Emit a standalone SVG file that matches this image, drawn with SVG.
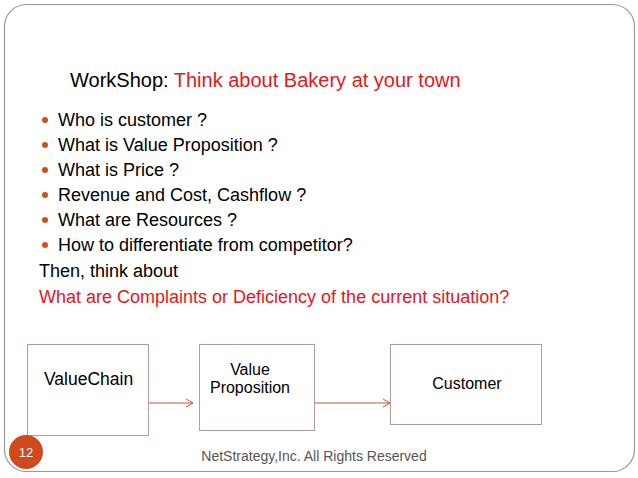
<svg xmlns="http://www.w3.org/2000/svg" width="638" height="478" viewBox="0 0 638 478">
<style>
text{font-family:"Liberation Sans",Arial,sans-serif;fill:#000}
.b{font-size:18px}
.red{fill:#e8151b}
.box{fill:#fff;stroke:#b89a9a;stroke-width:1}
.con{stroke:#c8553a;stroke-width:1;fill:none}
.dot{fill:#d0501c}
.n{font-size:16px}
</style>
<defs><marker id="ah" markerWidth="10" markerHeight="10" refX="8" refY="5" orient="auto" markerUnits="userSpaceOnUse"><path d="M1,1 L8,5 L1,9" fill="none" stroke="#c8553a" stroke-width="1"/></marker></defs>
<rect width="638" height="478" fill="#fff"/>
<rect x="4.5" y="4.5" width="630" height="467" rx="22" fill="none" stroke="#999" stroke-width="1.2"/>
<text x="70" y="87" font-size="20">WorkShop: <tspan class="red">Think about Bakery at your town</tspan></text>
<g>
<circle class="dot" cx="45" cy="120" r="3"/><text x="58" y="126" class="b">Who is customer ?</text>
<circle class="dot" cx="45" cy="145" r="3"/><text x="58" y="151" class="b">What is Value Proposition ?</text>
<circle class="dot" cx="45" cy="170" r="3"/><text x="58" y="176" class="b">What is Price ?</text>
<circle class="dot" cx="45" cy="195" r="3"/><text x="58" y="201" class="b">Revenue and Cost, Cashflow ?</text>
<circle class="dot" cx="45" cy="220" r="3"/><text x="58" y="226" class="b">What are Resources ?</text>
<circle class="dot" cx="45" cy="245" r="3"/><text x="58" y="251" class="b">How to differentiate from competitor?</text>
<text x="39" y="277" class="b">Then, think about</text>
<text x="39" y="303" class="b red">What are Complaints or Deficiency of the current situation?</text>
</g>
<g id="connectors">
<line class="con" x1="149" y1="403" x2="193" y2="403" marker-end="url(#ah)"/>
<line class="con" x1="310" y1="403" x2="390" y2="403" marker-end="url(#ah)"/>
</g>
<g id="valuechain"><rect class="box" x="27.5" y="344.5" width="121" height="91"/><text x="44" y="385" class="n" font-size="17.5" style="font-size:17.5px">ValueChain</text></g>
<g id="valueprop"><rect class="box" x="199.5" y="344.5" width="115" height="86"/><text x="250" y="375" class="n" text-anchor="middle">Value</text><text x="250" y="393" class="n" text-anchor="middle">Proposition</text></g>
<g id="customer"><rect class="box" x="390.5" y="344.5" width="151" height="80"/><text x="467" y="389" class="n" text-anchor="middle">Customer</text></g>
<circle cx="26" cy="452" r="17" fill="#d04a1d"/>
<text x="26" y="457" font-size="13" text-anchor="middle" style="fill:#fff">12</text>
<text x="314" y="461" font-size="14" text-anchor="middle" style="fill:#555">NetStrategy,Inc.  All Rights Reserved</text>
</svg>
